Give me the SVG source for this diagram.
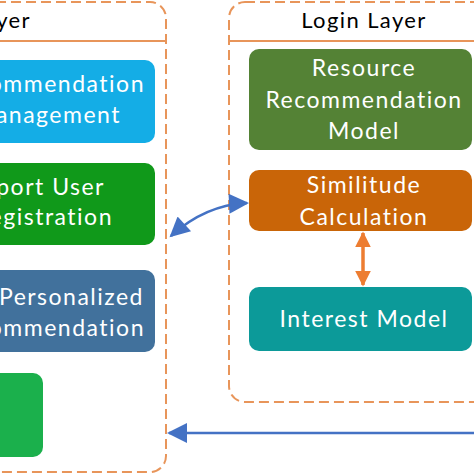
<svg xmlns="http://www.w3.org/2000/svg" width="474" height="474" viewBox="0 0 474 474">
<style>
.cont{fill:none;stroke:#E8955A;stroke-width:2;stroke-dasharray:10 5}
.sep{stroke:#E8955A;stroke-width:2}
.hdr{font-family:Lato,"Open Sans",sans-serif;font-size:22px;letter-spacing:1.4px;fill:#000}
.t{font-family:Lato,"Open Sans",sans-serif;font-size:23px;letter-spacing:1.5px;fill:#fff}
.c{text-anchor:middle}
.e{text-anchor:end}
.blue{stroke:#4472C4;stroke-width:2.5;fill:none}
</style>
<defs>
<marker id="ab" viewBox="0 0 10 10" refX="9" refY="5" markerWidth="9" markerHeight="8" orient="auto-start-reverse" markerUnits="strokeWidth"><path d="M0,0 L10,5 L0,10 z" fill="#4472C4"/></marker>
<marker id="ao" viewBox="0 0 10 10" refX="9" refY="5" markerWidth="4.5" markerHeight="4.5" orient="auto-start-reverse" markerUnits="strokeWidth"><path d="M0,0 L10,5 L0,10 z" fill="#ED7D31"/></marker>
</defs>
<rect width="474" height="474" fill="#fff"/>
<g id="left-layer">
<rect class="cont" x="-200" y="2" width="366" height="470" rx="16"/>
<line class="sep" x1="-10" y1="41" x2="166" y2="41"/>
<text class="hdr e" x="31" y="28">Layer</text>
</g>
<g id="right-layer">
<rect class="cont" x="229" y="2" width="270" height="400" rx="16"/>
<line class="sep" x1="229" y1="41" x2="480" y2="41"/>
<text class="hdr c" x="364" y="28">Login Layer</text>
</g>
<g id="n-recmgmt">
<rect x="-100" y="60" width="255" height="83" rx="10" fill="#14ADE6"/>
<text class="t e" x="145" y="92">Recommendation</text>
<text class="t e" x="121" y="123">Management</text>
</g>
<g id="n-register">
<rect x="-100" y="163" width="255" height="82" rx="10" fill="#10991A"/>
<text class="t e" x="105" y="195">Support User</text>
<text class="t e" x="113" y="225">Registration</text>
</g>
<g id="n-personal">
<rect x="-100" y="270" width="255" height="82" rx="10" fill="#41719C"/>
<text class="t e" x="144" y="305">Personalized</text>
<text class="t e" x="145" y="336">Recommendation</text>
</g>
<g id="n-green">
<rect x="-100" y="373" width="143" height="84" rx="10" fill="#1BB04C"/>
</g>
<g id="n-resmodel">
<rect x="249" y="49" width="223" height="101" rx="10" fill="#548235"/>
<text class="t c" x="364" y="76">Resource</text>
<text class="t c" x="364" y="108">Recommendation</text>
<text class="t c" x="364" y="139">Model</text>
</g>
<g id="n-simil">
<rect x="249" y="170" width="223" height="61" rx="10" fill="#C96508"/>
<text class="t c" x="364" y="193">Similitude</text>
<text class="t c" x="364" y="225">Calculation</text>
</g>
<g id="n-interest">
<rect x="249" y="287" width="223" height="64" rx="10" fill="#0C9A99"/>
<text class="t c" x="364" y="327">Interest Model</text>
</g>
<g id="connectors">
<path class="blue" d="M171,236 Q205,205 247,203" marker-start="url(#ab)" marker-end="url(#ab)"/>
<line class="blue" x1="474" y1="433" x2="169" y2="433" marker-end="url(#ab)"/>
<line x1="363" y1="233" x2="363" y2="285" stroke="#ED7D31" stroke-width="3.5" marker-start="url(#ao)" marker-end="url(#ao)"/>
</g>
</svg>
